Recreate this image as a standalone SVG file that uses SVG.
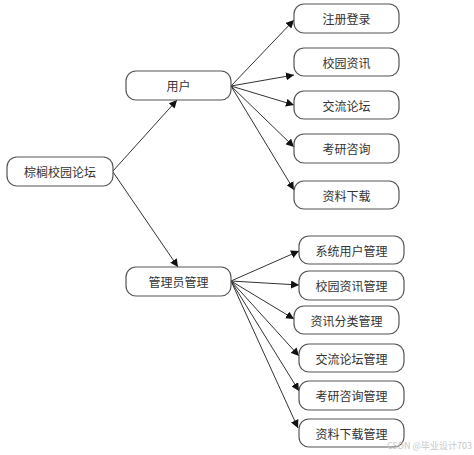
<svg xmlns="http://www.w3.org/2000/svg" width="474" height="455" viewBox="0 0 474 455">
<defs>
<marker id="arr" viewBox="0 0 10 10" refX="10" refY="5" markerWidth="8" markerHeight="8" markerUnits="userSpaceOnUse" orient="auto">
<path d="M0,0 L10,5 L0,10 z" fill="#111"/>
</marker>
<style>
.box{fill:#fff;stroke:#555;stroke-width:1.2}
.t{font-family:"Noto Sans CJK SC","Liberation Sans",sans-serif;font-size:12px;fill:#333;text-anchor:middle;dominant-baseline:central}
.c{stroke:#333;stroke-width:1;fill:none;marker-end:url(#arr)}
.wm{font-family:"Noto Sans CJK SC","Liberation Sans",sans-serif;font-size:9px;fill:#c8c8c8}
</style>
</defs>
<rect width="474" height="455" fill="#fff"/>
<g id="connectors">
<line class="c" x1="113" y1="171" x2="177" y2="100"/>
<line class="c" x1="113" y1="172" x2="178" y2="267"/>
<line class="c" x1="231" y1="86" x2="294" y2="20"/>
<line class="c" x1="231" y1="86" x2="294" y2="75"/>
<line class="c" x1="231" y1="86" x2="294" y2="105"/>
<line class="c" x1="231" y1="86" x2="294" y2="147"/>
<line class="c" x1="231" y1="86" x2="294" y2="190"/>
<line class="c" x1="231" y1="281" x2="299" y2="251"/>
<line class="c" x1="231" y1="281" x2="299" y2="285"/>
<line class="c" x1="231" y1="281" x2="294" y2="319"/>
<line class="c" x1="231" y1="281" x2="299" y2="356"/>
<line class="c" x1="231" y1="281" x2="299" y2="391"/>
<line class="c" x1="231" y1="281" x2="298" y2="428"/>
</g>
<g id="root"><rect class="box" x="7" y="157" width="106" height="29" rx="10"/><text class="t" x="60" y="171.5">棕榈校园论坛</text></g>
<g id="user"><rect class="box" x="126" y="71" width="105" height="29" rx="10"/><text class="t" x="178.5" y="85.5">用户</text></g>
<g id="admin"><rect class="box" x="126" y="267" width="105" height="29" rx="10"/><text class="t" x="178.5" y="281.5">管理员管理</text></g>
<g id="u1"><rect class="box" x="294" y="4" width="105" height="29" rx="10"/><text class="t" x="346.5" y="18.5">注册登录</text></g>
<g id="u2"><rect class="box" x="294" y="48" width="105" height="28" rx="10"/><text class="t" x="346.5" y="62">校园资讯</text></g>
<g id="u3"><rect class="box" x="294" y="91" width="105" height="28" rx="10"/><text class="t" x="346.5" y="105">交流论坛</text></g>
<g id="u4"><rect class="box" x="294" y="134" width="105" height="29" rx="10"/><text class="t" x="346.5" y="148.5">考研咨询</text></g>
<g id="u5"><rect class="box" x="294" y="181" width="105" height="28" rx="10"/><text class="t" x="346.5" y="195">资料下载</text></g>
<g id="a1"><rect class="box" x="299" y="236" width="105" height="28" rx="10"/><text class="t" x="351.5" y="250">系统用户管理</text></g>
<g id="a2"><rect class="box" x="299" y="271" width="105" height="29" rx="10"/><text class="t" x="351.5" y="285.5">校园资讯管理</text></g>
<g id="a3"><rect class="box" x="294" y="306" width="105" height="28" rx="10"/><text class="t" x="346.5" y="320">资讯分类管理</text></g>
<g id="a4"><rect class="box" x="299" y="344" width="105" height="28" rx="10"/><text class="t" x="351.5" y="358">交流论坛管理</text></g>
<g id="a5"><rect class="box" x="299" y="381" width="105" height="29" rx="10"/><text class="t" x="351.5" y="395.5">考研咨询管理</text></g>
<g id="a6"><rect class="box" x="299" y="419" width="105" height="28" rx="10"/><text class="t" x="351.5" y="433">资料下载管理</text></g>
<text class="wm" x="387" y="449">CSDN @毕业设计703</text>
</svg>
